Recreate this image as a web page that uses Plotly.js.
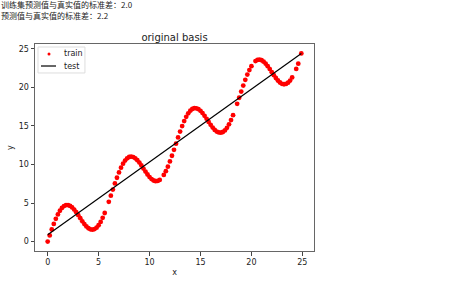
<!DOCTYPE html>
<html>
<head>
<meta charset="utf-8">
<script src="https://cdn.plot.ly/plotly-3.0.1.min.js"></script>
<style>html,body{margin:0;padding:0;background:#fff;}#chart{width:474px;height:283px;}</style>
</head>
<body>
<div id="chart"></div>
<script>
// Training points
const trainX = [0,0.2,0.4,0.6,0.8,1.0,1.2,1.4,1.6,1.8,2.0,2.2,2.4,2.6,2.8,3.0,3.2,3.4,3.6,3.8,4.0,4.2,4.4,4.6,4.8,5.0,5.2,5.4,5.6,6.0,6.2,6.4,6.6,6.8,7.0,7.2,7.4,7.6,7.8,8.0,8.2,8.4,8.6,8.8,9.0,9.2,9.4,9.6,9.8,10.0,10.2,10.4,10.6,10.8,11.0,11.4,11.6,11.8,12.0,12.2,12.4,12.6,12.8,13.0,13.2,13.4,13.6,13.8,14.0,14.2,14.4,14.6,14.8,15.0,15.2,15.4,15.6,15.8,16.0,16.2,16.4,16.6,16.8,17.0,17.2,17.4,17.6,17.8,18.0,18.2,18.6,18.8,19.0,19.2,19.4,19.6,19.8,20.0,20.4,20.6,20.8,21.0,21.2,21.4,21.6,21.8,22.0,22.2,22.4,22.6,22.8,23.0,23.2,23.4,23.6,23.8,24.0,24.4,24.6,24.9];
const trainY = [0,0.80,1.57,2.29,2.95,3.52,4.00,4.36,4.60,4.72,4.73,4.63,4.43,4.15,3.81,3.42,3.03,2.63,2.27,1.96,1.73,1.59,1.55,1.62,1.81,2.12,2.55,3.08,3.71,5.16,5.95,6.75,7.54,8.28,8.97,9.58,10.10,10.50,10.80,10.97,11.02,10.96,10.80,10.56,10.24,9.87,9.47,9.08,8.70,8.37,8.10,7.92,7.83,7.86,8.00,8.64,9.13,9.72,10.39,11.13,11.90,12.70,13.50,14.26,14.98,15.62,16.18,16.63,16.97,17.19,17.30,17.28,17.17,16.95,16.66,16.31,15.92,15.52,15.14,14.78,14.48,14.27,14.15,14.12,14.21,14.42,14.75,15.20,15.75,16.39,17.86,18.65,19.45,20.23,20.97,21.65,22.24,22.74,23.40,23.55,23.59,23.51,23.33,23.07,22.75,22.37,21.97,21.58,21.21,20.89,20.63,20.46,20.40,20.44,20.60,20.88,21.28,22.39,23.07,24.40];
// Test prediction line
const testX = [0, 24.9];
const testY = [0.9, 24.4];
const xTicks = [0,5,10,15,20,25];
const yTicks = [0,5,10,15,20,25];
const seriesNames = ['train', 'test'];
const line1 = "训练集预测值与真实值的标准差：2.0";
const line2 = "预测值与真实值的标准差：2.2";

const axisCommon = {
  showgrid:false, zeroline:false, showline:true, mirror:true,
  linecolor:'#666', linewidth:1, ticks:'outside', ticklen:3.5, tickwidth:1, tickcolor:'#444',
  tickfont:{family:'DejaVu Sans', size:8, color:'#222'}, tickmode:'array'
};
const data = [
  {x:trainX, y:trainY, mode:'markers', type:'scatter', name:seriesNames[0],
   marker:{color:'#ff0000', size:4.8, line:{width:0}}},
  {x:testX, y:testY, mode:'lines', type:'scatter', name:seriesNames[1],
   line:{color:'#000000', width:1.2}}
];
// compact matplotlib-style legend (paper coordinates)
const lf = {family:'DejaVu Sans', size:8, color:'#222'};
const shapes = [
  {type:'rect', xref:'paper', yref:'paper', x0:0.0108, x1:0.179, y0:0.860, y1:0.9855,
   line:{color:'#ddd', width:1}, fillcolor:'rgba(255,255,255,0.8)', layer:'above'},
  {type:'circle', xref:'paper', yref:'paper', x0:0.0448, x1:0.0556, y0:0.9444, y1:0.9589,
   line:{width:0}, fillcolor:'#ff0000', layer:'above'},
  {type:'line', xref:'paper', yref:'paper', x0:0.0215, x1:0.0753, y0:0.8937, y1:0.8937,
   line:{color:'#000', width:1.2}, layer:'above'}
];
const annotations = [
  {text:seriesNames[0], xref:'paper', yref:'paper', x:0.1004, y:0.9517, xanchor:'left', yanchor:'middle', showarrow:false, font:lf, borderpad:0},
  {text:seriesNames[1], xref:'paper', yref:'paper', x:0.1004, y:0.8937, xanchor:'left', yanchor:'middle', showarrow:false, font:lf, borderpad:0},
  {text:line1, xref:'paper', yref:'paper', x:-0.125, y:1.190, xanchor:'left', yanchor:'middle', showarrow:false, borderpad:0,
   font:{family:'Noto Sans CJK SC', size:8, color:'#222'}},
  {text:line2, xref:'paper', yref:'paper', x:-0.125, y:1.140, xanchor:'left', yanchor:'middle', showarrow:false, borderpad:0,
   font:{family:'Noto Sans CJK SC', size:8, color:'#222'}}
];
const layout = {
  width:474, height:283,
  margin:{l:35, r:160, t:44, b:32, pad:0},
  paper_bgcolor:'#fff', plot_bgcolor:'#fff',
  title:{text:'original basis', font:{family:'DejaVu Sans', size:10, color:'#222'},
    xref:'paper', x:0.5, xanchor:'center', yref:'container', y:0.866, yanchor:'middle'},
  xaxis:Object.assign({}, axisCommon, {range:[-1.245,26.145], tickvals:xTicks, ticktext:xTicks.map(String),
    title:{text:'x', font:{family:'DejaVu Sans', size:8, color:'#222'}, standoff:3}}),
  yaxis:Object.assign({}, axisCommon, {range:[-1.22,25.62], tickvals:yTicks, ticktext:yTicks.map(String),
    title:{text:'y', font:{family:'DejaVu Sans', size:8, color:'#222'}, standoff:3}}),
  showlegend:false,
  shapes:shapes,
  annotations:annotations
};
Plotly.newPlot('chart', data, layout, {displayModeBar:false, staticPlot:true});
</script>
</body>
</html>
